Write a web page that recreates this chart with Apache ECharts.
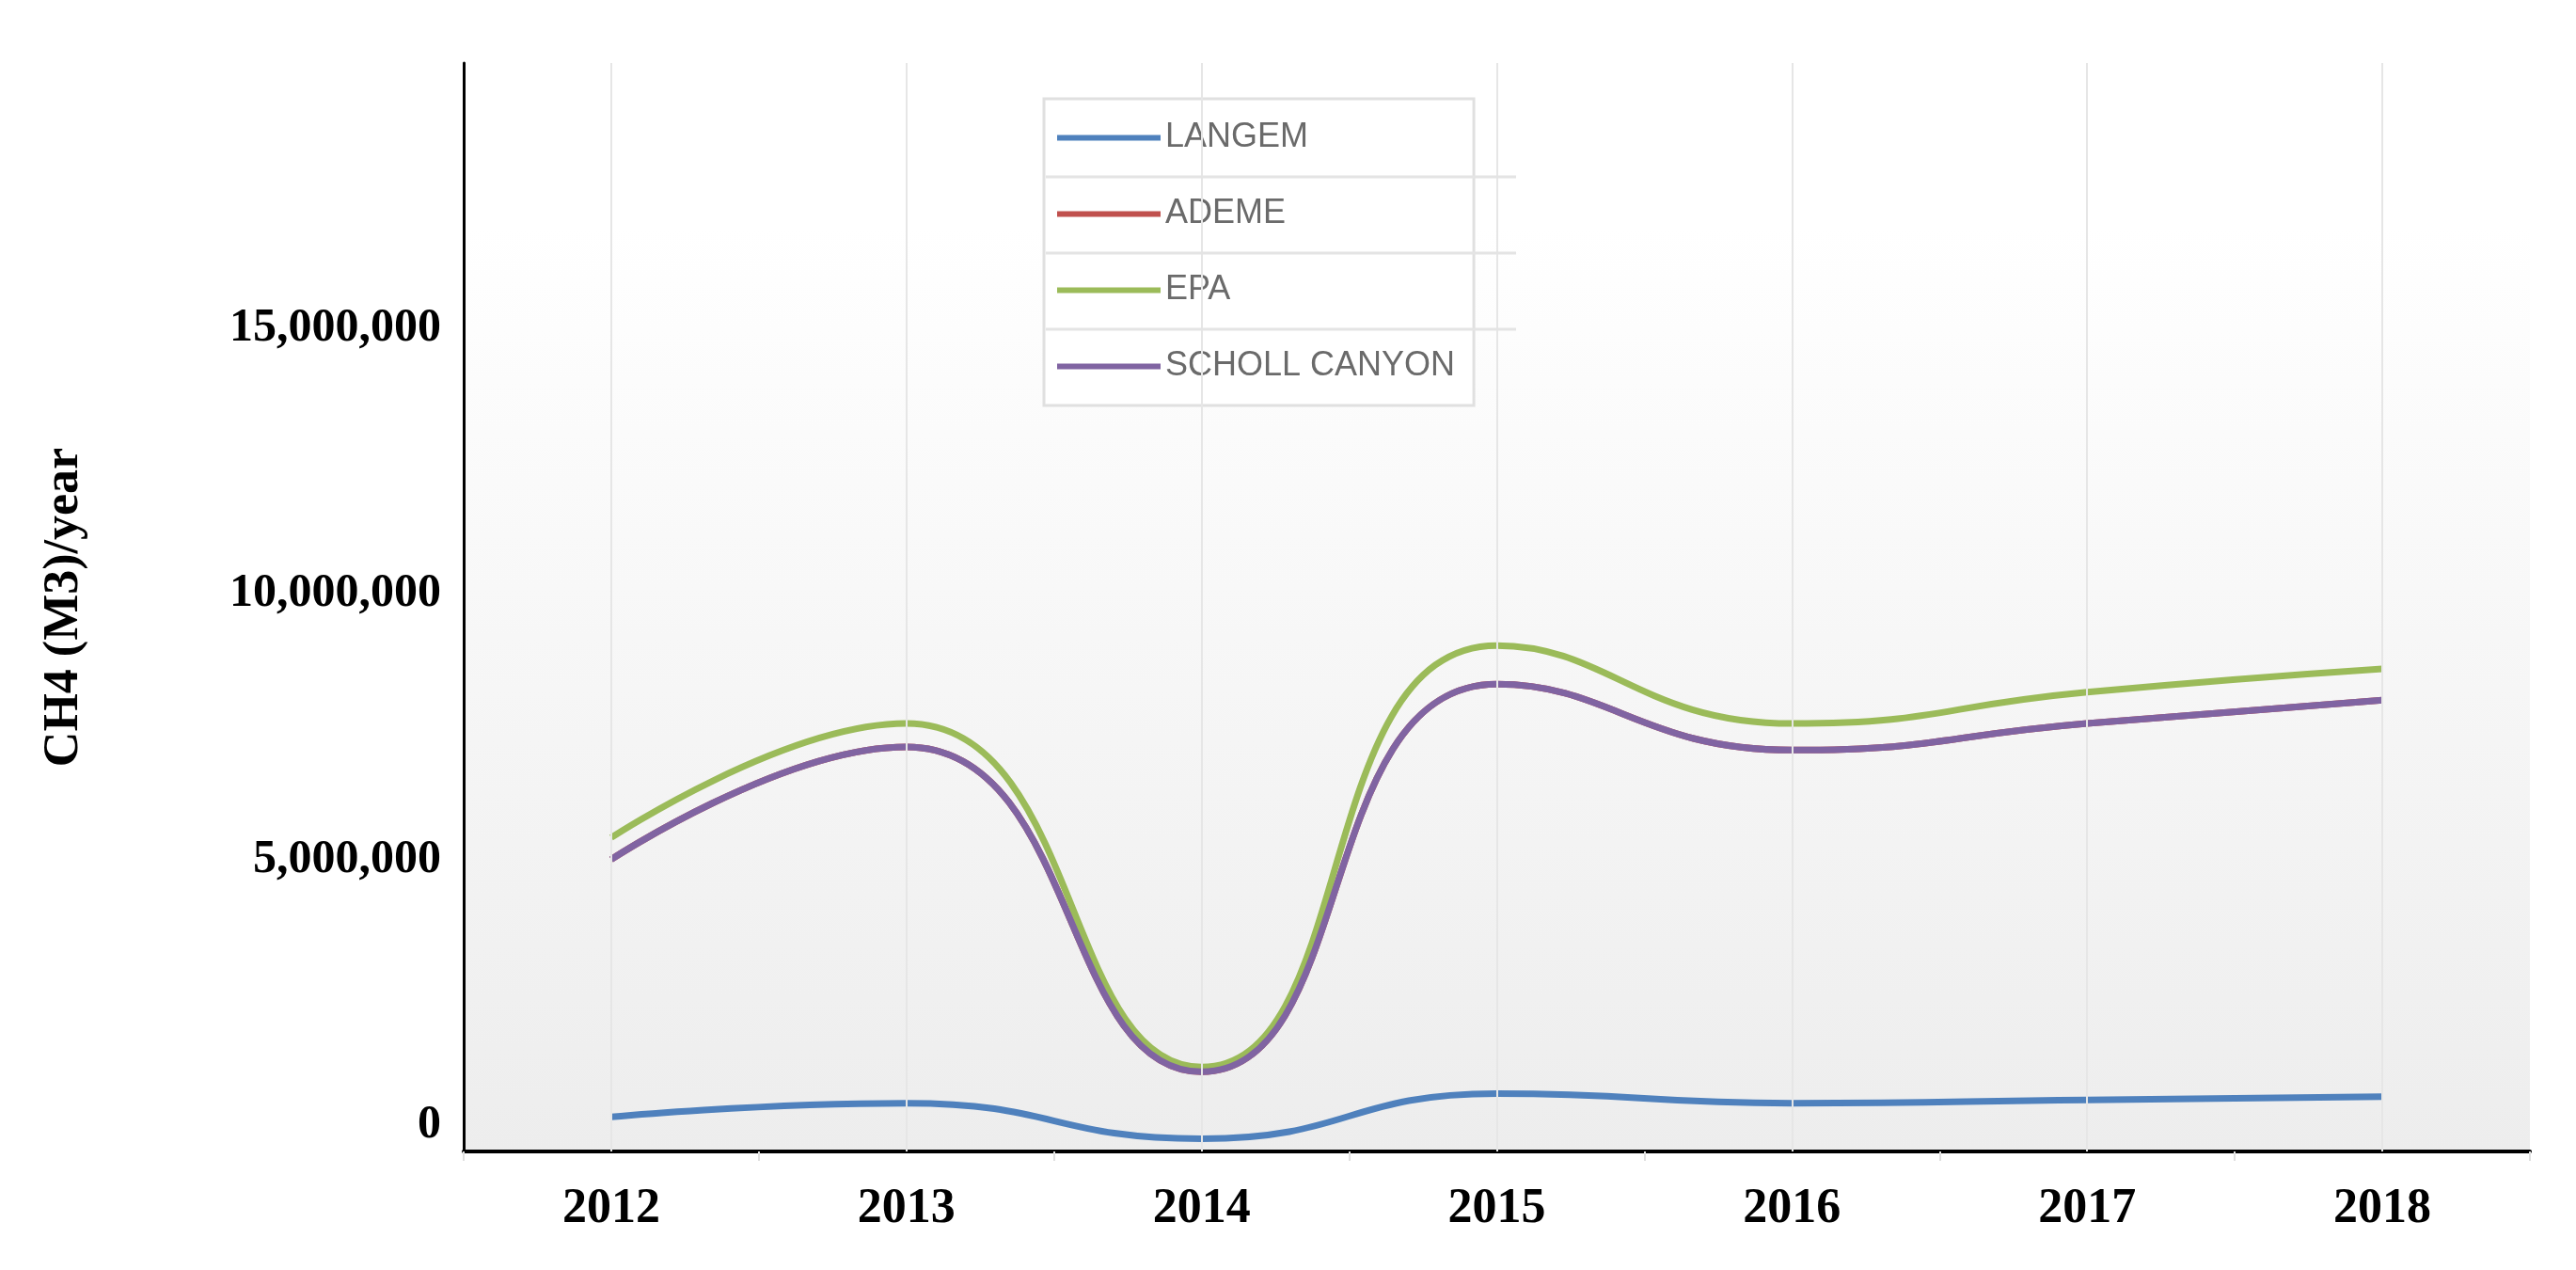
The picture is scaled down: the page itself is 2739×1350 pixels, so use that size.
<!DOCTYPE html>
<html><head><meta charset="utf-8">
<script src="https://cdn.jsdelivr.net/npm/echarts@6/dist/echarts.min.js"></script>
<style>html,body{margin:0;padding:0;background:#fff}#c{width:2739px;height:1350px}</style>
</head><body><div id="c"></div>
<script>
const years = ['2012','2013','2014','2015','2016','2017','2018'];
const langem = [150000, 410000, -260000, 590000, 410000, 470000, 530000];
const ademe = [5000000, 7120000, 1000000, 8300000, 7060000, 7560000, 8000000];
const epa = [5410000, 7560000, 1090000, 9030000, 7560000, 8150000, 8590000];
const scholl = [5000000, 7120000, 1000000, 8300000, 7060000, 7560000, 8000000];
const yTickLabels = {0:'0', 5000000:'5,000,000', 10000000:'10,000,000', 15000000:'15,000,000'};

const chart = echarts.init(document.getElementById('c'));
const lw = 7;
function s(name, data, color, z){
  return {name, type:'line', data, smooth:0.5, symbol:'none', z,
    lineStyle:{width:lw, color}, itemStyle:{color}};
}
const series = [
  s('LANGEM', langem, '#4f81bd', 3),
  s('ADEME', ademe, '#c0504d', 2),
  s('EPA', epa, '#9bbb59', 3),
  s('SCHOLL CANYON', scholl, '#8064a2', 4)
];
series[0].markLine = {silent:true, symbol:'none', label:{show:false},
  lineStyle:{color:'#e6e6e6', width:2, type:'solid'},
  data: years.map(y => ({xAxis:y}))};
const serif = 'Liberation Serif';
chart.setOption({
  animation:false,
  grid:{left:493, right:49, top:67, bottom:126, show:true, borderWidth:0,
    backgroundColor:{type:'linear', x:0, y:0, x2:0, y2:1, colorStops:[
      {offset:0, color:'#ffffff'}, {offset:0.15, color:'#ffffff'}, {offset:1, color:'#ededed'}]}},
  legend:{orient:'vertical', left:1110, top:105, itemWidth:110, itemHeight:6, itemGap:38,
    icon:'rect', backgroundColor:'#ffffff', borderColor:'#e0e0e0', borderWidth:3,
    padding:[20,20,20,14],
    textStyle:{fontFamily:'Liberation Sans Narrow, Liberation Sans', fontSize:36, lineHeight:43, color:'#6a6a6a'},
    data:['LANGEM','ADEME','EPA','SCHOLL CANYON']},
  graphic:[
    {type:'line', shape:{x1:1112,y1:188,x2:1612,y2:188}, style:{stroke:'#e4e4e4', lineWidth:3}, z:100},
    {type:'line', shape:{x1:1112,y1:269,x2:1612,y2:269}, style:{stroke:'#e4e4e4', lineWidth:3}, z:100},
    {type:'line', shape:{x1:1112,y1:350,x2:1612,y2:350}, style:{stroke:'#e4e4e4', lineWidth:3}, z:100}
  ],
  xAxis:{type:'category', data:years, boundaryGap:true,
    axisLine:{onZero:false, lineStyle:{color:'#000', width:4}},
    axisTick:{show:true, inside:false, length:10, lineStyle:{color:'#e0e0e0', width:2}},
    axisLabel:{margin:36, fontFamily:serif, fontWeight:'bold', fontSize:52, color:'#000',
      formatter:(v,i)=> i===0 ? '{a|'+v+'}' : v,
      rich:{a:{fontFamily:serif, fontWeight:'bold', fontSize:52, color:'#000', padding:[0,0,28,0]}}},
    splitLine:{show:false}},
  yAxis:{type:'value', min:-500000, max:20000000, interval:500000,
    name:'CH4 (M3)/year', nameLocation:'middle', nameGap:398,
    nameTextStyle:{fontFamily:serif, fontWeight:'bold', fontSize:52, color:'#000'},
    axisLine:{show:true, lineStyle:{color:'#000', width:3}},
    axisTick:{show:false}, splitLine:{show:false},
    axisLabel:{margin:24, fontFamily:serif, fontWeight:'bold', fontSize:50, color:'#000',
      formatter:v => yTickLabels[v] !== undefined ? yTickLabels[v] : ''}},
  series
});
</script></body></html>
